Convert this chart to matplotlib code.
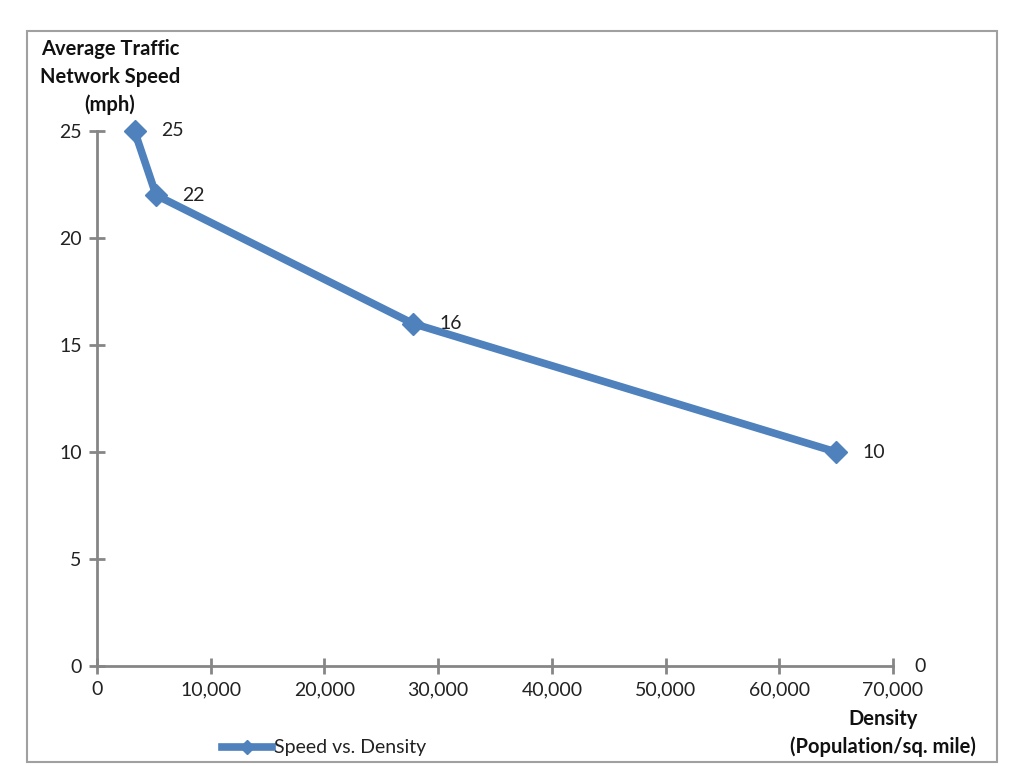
import matplotlib
matplotlib.use("Agg")
import matplotlib.pyplot as plt
from matplotlib.patches import Rectangle
from matplotlib.lines import Line2D

density = [3300, 5200, 27800, 65000]
speed = [25, 22, 16, 10]
labels = ["25", "22", "16", "10"]
xticks = [0, 10000, 20000, 30000, 40000, 50000, 60000, 70000]
yticks = [0, 5, 10, 15, 20, 25]

plt.rcParams['font.family'] = ['Lato', 'DejaVu Sans']
blue = '#4F81BD'
gray = '#868686'
fs = 14

fig = plt.figure(figsize=(10.24, 7.66), dpi=100)
fig.patches.append(Rectangle((27/1024, 1-762/766), (997-27)/1024, (762-31)/766,
                             transform=fig.transFigure, fill=False, edgecolor='#A0A0A0', lw=1.5))
ax = fig.add_axes([97/1024, 1-666/766, (893-97)/1024, (666-131)/766])
ax.plot(density, speed, color=blue, lw=5.5, marker='D', markersize=11, clip_on=False, zorder=3)
for x, y, t in zip(density, speed, labels):
    ax.annotate(t, (x, y), xytext=(19, 0), textcoords='offset points', va='center', ha='left',
                fontsize=fs, color='#222222')
ax.set_xlim(0, 70000)
ax.set_ylim(0, 25)
ax.set_xticks(xticks)
ax.set_xticklabels([f"{v:,}" for v in xticks])
ax.set_yticks(yticks)
for s in ['top', 'right']:
    ax.spines[s].set_visible(False)
for s in ['left', 'bottom']:
    ax.spines[s].set_color(gray)
    ax.spines[s].set_linewidth(2)
ax.tick_params(direction='inout', length=12, width=2, color=gray, labelsize=fs, labelcolor='#222222', pad=5)
ax.text(1.034, 0, "0", transform=ax.transAxes, fontsize=fs, color='#222222', va='center', ha='center')
fig.text(110/1024, 1-77/766, "Average Traffic\nNetwork Speed\n(mph)", ha='center', va='center',
         fontsize=14.5, fontweight='bold', linespacing=1.45, color='#111111')
fig.text(883/1024, 1-733/766, "Density\n(Population/sq. mile)", ha='center', va='center',
         fontsize=14.5, fontweight='bold', linespacing=1.4, color='#111111')
fig.add_artist(Line2D([222/1024, 272/1024], [1-747/766]*2, transform=fig.transFigure,
                      color=blue, lw=5.5))
fig.add_artist(Line2D([247/1024], [1-747/766], transform=fig.transFigure, color=blue,
                      marker='D', markersize=7, lw=0))
fig.text(274/1024, 1-747/766, "Speed vs. Density", ha='left', va='center', fontsize=fs, color='#222222')
fig.savefig("out.png", dpi=100)
